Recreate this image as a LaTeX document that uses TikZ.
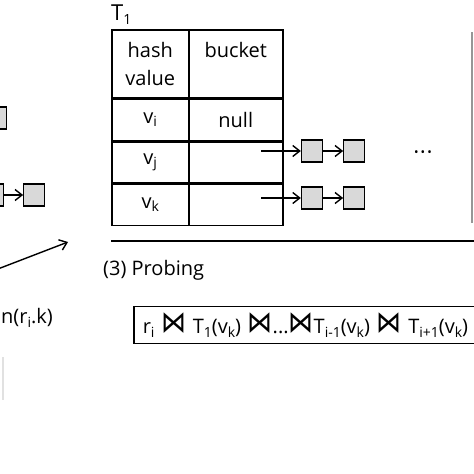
\documentclass[tikz,border=0pt]{standalone}
\usepackage{fontspec}
\setmainfont{Open Sans}
\newfontfamily\symfont{DejaVu Sans}
\usepackage{graphicx}
\usepackage{xcolor}
\definecolor{cellgray}{RGB}{217,217,217}
\definecolor{edgegray}{RGB}{150,150,150}
\definecolor{faintgray}{RGB}{225,225,225}
\usetikzlibrary{arrows.meta,positioning}
\newcommand{\sbs}[1]{\raisebox{-0.35ex}{\fontsize{14}{14}\selectfont #1}}
\newcommand{\jn}{\raisebox{0.1ex}{\scalebox{1.25}[1.5]{\symfont ⋈}}}

\begin{document}
\begin{tikzpicture}[x=1pt,y=-1pt,
  font=\fontsize{20}{28}\selectfont,
  cell/.style={draw,line width=1.5pt,inner sep=0pt,minimum width=77pt,
    minimum height=41pt,align=center},
  wcell/.style={cell,minimum width=94pt},
  qbox/.style={draw,fill=cellgray,line width=1.3pt,minimum width=21pt,
    minimum height=22pt,inner sep=0pt},
  probe/.style={draw,line width=1.5pt,minimum height=37pt,text width=352pt,
    inner xsep=9pt,align=left,anchor=west},
  arr/.style={-{Straight Barb[length=7pt,width=11pt]},line width=1.4pt},
  sep/.style={line width=1.5pt}]
  \useasboundingbox (0,0) rectangle (474,474);
  \clip (0,0) rectangle (474,474);
  % hash table T1
  \node[anchor=base west,inner sep=0pt,font=\fontsize{22}{22}\selectfont] (t1) at (111,20) {T\sbs{1}};
  \node[cell,minimum height=68pt,anchor=north west] (hv) at (111,29) {hash\\value};
  \node[wcell,minimum height=68pt,anchor=north west] (bk) at (188,29) {bucket\\\phantom{value}};
  \node[cell,below=0pt of hv] (vi) {v\sbs{i}};
  \node[cell,below=0pt of vi] (vj) {v\sbs{j}};
  \node[cell,below=0pt of vj] (vk) {v\sbs{k}};
  \node[wcell,below=0pt of bk] (bi) {null};
  \node[wcell,below=0pt of bi] (bj) {};
  \node[wcell,below=0pt of bj] (bkk) {};
  % buckets
  \coordinate (sj) at (261,151);
  \coordinate (sk) at (261,198);
  \node[qbox] (j1) at (312,151) {};
  \node[qbox,right=20pt of j1] (j2) {};
  \node[qbox] (k1) at (312,198) {};
  \node[qbox,right=20pt of k1] (k2) {};
  \draw[arr] (sj) -- (j1); \draw[arr] (j1) -- (j2);
  \draw[arr] (sk) -- (k1); \draw[arr] (k1) -- (k2);
  \node[font=\fontsize{12}{12}\selectfont] (dots) at (423,154) {•\,•\,•};
  \coordinate (ra) at (472,32); \coordinate (rb) at (472,223);
  \draw[edgegray,line width=1.3pt] (ra) -- (rb);
  % left part
  \node[qbox] (a0) at (-4,118) {};
  \node[qbox] (b0) at (-7,195) {};
  \node[qbox,right=19pt of b0] (b1) {};
  \draw[arr] (b0) -- (b1);
  \coordinate (hs) at (-10,272); \coordinate (he) at (68,242);
  \draw[arr] (hs) -- (he);
  \node[anchor=west,inner sep=0pt] (hk) at (1,318) {n(r\sbs{i}.k)};
  \coordinate (fa) at (3,357); \coordinate (fb) at (3,400);
  \draw[faintgray,line width=1.2pt] (fa) -- (fb);
  % probing
  \coordinate (sepa) at (111,241); \coordinate (sepb) at (480,241);
  \draw[sep] (sepa) -- (sepb);
  \node[anchor=west,inner sep=0pt] (prb) at (103,270) {(3) Probing};
  \node[probe] (pr) at (133,325) {r\sbs{i} \jn\ T\sbs{1}(v\sbs{k}) \jn...\jn T\sbs{i-1}(v\sbs{k}) \jn\ T\sbs{i+1}(v\sbs{k})};
\end{tikzpicture}
\end{document}
